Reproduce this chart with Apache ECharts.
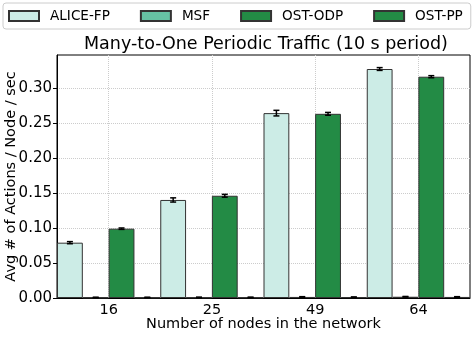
<!DOCTYPE html>
<html>
<head>
<meta charset="utf-8">
<script src="https://cdn.jsdelivr.net/npm/echarts@6/dist/echarts.min.js"></script>
<style>
  html, body { margin: 0; padding: 0; background: #fff; }
  #chart { width: 474px; height: 353px; }
</style>
</head>
<body>
<div id="chart"></div>
<script>
// node counts on the x axis
var nodes = ["16", "25", "49", "64"];
var seriesNames = ["ALICE-FP", "MSF", "OST-ODP", "OST-PP"];
var aliceFP = [0.079, 0.140, 0.264, 0.327];
var aliceErr = [0.0015, 0.003, 0.004, 0.002];
var msf = [0.0008, 0.0009, 0.0015, 0.0018];
var msfErr = [0.0003, 0.0003, 0.0004, 0.0004];
var ostODP = [0.099, 0.146, 0.263, 0.316];
var odpErr = [0.001, 0.002, 0.002, 0.0015];
var ostPP = [0.0008, 0.0009, 0.0012, 0.0015];
var ppErr = [0.0003, 0.0003, 0.0003, 0.0004];
var colors = ["#ccece6", "#66c2a4", "#238b45", "#238b45"];

var font = "DejaVu Sans";
var values = [aliceFP, msf, ostODP, ostPP];
var errs = [aliceErr, msfErr, odpErr, ppErr];

var myChart = echarts.init(document.getElementById("chart"));

var series = [];
seriesNames.forEach(function (name, i) {
  series.push({
    name: name,
    type: "bar",
    data: values[i],
    barGap: "0%",
    barCategoryGap: "0%",
    z: 3,
    itemStyle: { color: colors[i], borderColor: "#333", borderWidth: 1 }
  });
});
// error bars
seriesNames.forEach(function (name, i) {
  series.push({
    type: "custom",
    z: 5,
    silent: true,
    data: values[i].map(function (v, k) { return [k, v - errs[i][k], v + errs[i][k]]; }),
    renderItem: function (params, api) {
      var lo = api.coord([api.value(0), api.value(1)]);
      var hi = api.coord([api.value(0), api.value(2)]);
      var band = api.size([1, 0])[0];
      var x = lo[0] + (i - 1.5) * band / 4;
      var style = { stroke: "#000", lineWidth: 1.5 };
      return {
        type: "group",
        children: [
          { type: "line", shape: { x1: x, y1: lo[1], x2: x, y2: hi[1] }, style: style },
          { type: "line", shape: { x1: x - 3, y1: lo[1], x2: x + 3, y2: lo[1] }, style: style },
          { type: "line", shape: { x1: x - 3, y1: hi[1], x2: x + 3, y2: hi[1] }, style: style }
        ]
      };
    }
  });
});

myChart.setOption({
  animation: false,
  textStyle: { fontFamily: font },
  title: {
    text: "Many-to-One Periodic Traffic (10 s period)",
    left: 79,
    top: 30,
    textStyle: { fontFamily: font, fontSize: 17.5, fontWeight: "normal", color: "#000" }
  },
  legend: {
    data: seriesNames,
    left: 3,
    top: 3,
    icon: "rect",
    itemWidth: 30,
    itemHeight: 10,
    itemGap: 30,
    padding: [6, 8, 6, 5],
    borderColor: "#ccc",
    borderWidth: 1,
    borderRadius: 3,
    textStyle: { fontFamily: font, fontSize: 13.6, color: "#000", padding: [0, 0, 0, 6] }
  },
  grid: {
    left: 57,
    right: 4,
    top: 55,
    bottom: 55,
    show: true,
    borderColor: "#000",
    borderWidth: 1,
    containLabel: false,
    outerBoundsMode: "none"
  },
  xAxis: {
    type: "category",
    data: nodes,
    name: "Number of nodes in the network",
    nameLocation: "middle",
    nameGap: 19,
    nameMoveOverlap: false,
    nameTextStyle: { fontFamily: font, fontSize: 14.5, color: "#000" },
    axisLine: { lineStyle: { color: "#000" } },
    axisTick: { alignWithLabel: true, length: 4, lineStyle: { color: "#000" } },
    axisLabel: { fontFamily: font, fontSize: 14.5, color: "#000", margin: 5 },
    splitLine: { show: true, alignWithLabel: true, lineStyle: { color: "#ccc", type: "dotted" } }
  },
  yAxis: {
    type: "value",
    min: 0,
    max: 0.347,
    interval: 0.05,
    name: "Avg # of Actions / Node / sec",
    nameLocation: "middle",
    nameGap: 38,
    nameMoveOverlap: false,
    nameTextStyle: { fontFamily: font, fontSize: 14.5, color: "#000" },
    axisLine: { show: true, lineStyle: { color: "#000" } },
    axisTick: { show: true, length: 4, lineStyle: { color: "#000" } },
    axisLabel: {
      fontFamily: font, fontSize: 15, color: "#000", margin: 5,
      showMaxLabel: false,
      formatter: function (v) { return v.toFixed(2); }
    },
    splitLine: { show: true, showMaxLine: false, lineStyle: { color: "#ccc", type: "dotted" } }
  },
  series: series
});
</script>
</body>
</html>
